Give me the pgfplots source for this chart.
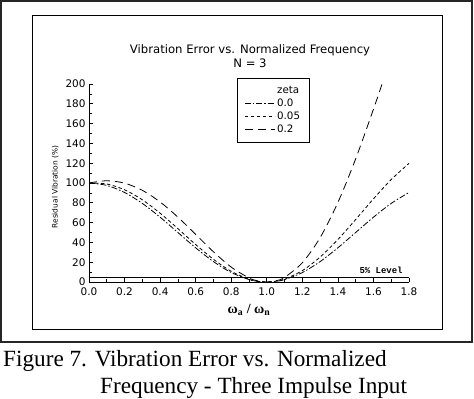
\documentclass[border=0pt]{standalone}
\usepackage{fontspec}
\setmainfont{Liberation Serif}
\setsansfont{DejaVu Sans}
\setmonofont{Liberation Mono}
\usepackage{pgfplots}
\pgfplotsset{compat=1.18}
\pgfplotsset{/pgf/number format/assume math mode=true}
\pgfplotsset{legend image code/.code={\draw[#1] (0bp,0bp) -- (30bp,0bp);}}
\begin{document}
\begin{tikzpicture}
\useasboundingbox (0,0) rectangle (474bp,399bp);
\draw[line width=1.6bp, black!85] (1bp,398bp) rectangle (472bp,57bp);
\draw[line width=0.8bp] (32bp,384bp) rectangle (442bp,70bp);
\node[font=\sffamily\fontsize{11.7}{13}\selectfont] at (250bp,349bp) {Vibration Error vs. Normalized Frequency};
\node[font=\sffamily\fontsize{11.7}{13}\selectfont] at (250bp,336bp) {N = 3};
\begin{axis}[
  at={(89bp,117bp)}, anchor=south west,
  scale only axis, width=320bp, height=198bp,
  xmin=0, xmax=1.8, ymin=0, ymax=200,
  axis x line*=bottom, axis y line*=left,
  axis line style={-, line width=0.8bp},
  xtick={0,0.2,...,1.8}, minor x tick num=1,
  ytick={0,20,...,200}, minor y tick num=1,
  tick align=inside,
  major tick length=4bp, minor tick length=2.5bp,
  tick style={black, line width=0.6bp},
  xticklabel style={/pgf/number format/.cd, fixed, fixed zerofill, precision=1, /tikz/.cd, yshift=-2bp},
  yticklabel style={/pgf/number format/.cd, fixed, precision=0},
  tick label style={font=\sffamily\fontsize{10.5}{12}\selectfont},
  xlabel={\textbf{ω\textsubscript{a} / ω\textsubscript{n}}},
  xlabel style={at={(axis description cs:0.5,-0.143)}, anchor=center, font=\fontsize{14}{15}\selectfont},
  ylabel={Residual Vibration (\%)},
  ylabel style={at={(axis description cs:-0.105,0.48)}, anchor=center, font=\sffamily\fontsize{7.5}{9}\selectfont},
  legend style={at={(axis description cs:0.4625,1.03)}, anchor=north west,
    draw=black, line width=0.8bp, font=\sffamily\fontsize{10.3}{11}\selectfont,
    inner xsep=7bp, inner ysep=6bp},
  legend cell align=left,
  clip mode=individual,
]
\addlegendimage{empty legend}
\addlegendentry{zeta}
\addplot[black, line width=0.8bp, smooth, dash pattern=on 6bp off 2bp on 1.5bp off 2bp] coordinates {
(0,100) (0.1,97.55) (0.2,90.45) (0.3,79.39) (0.4,65.45) (0.5,50.00) (0.6,34.55)
(0.7,20.61) (0.8,9.55) (0.9,2.45) (0.95,0.62) (1.0,0) (1.05,0.62) (1.1,2.45) (1.2,9.55)
(1.3,20.61) (1.4,34.55) (1.5,50.00) (1.6,65.45) (1.7,79.39) (1.8,90.45)};
\addlegendentry{0.0}
\addplot[black, line width=0.8bp, smooth, dash pattern=on 3.5bp off 2.5bp] coordinates {
(0,100) (0.1,99.00) (0.2,93.17) (0.3,83.03) (0.4,69.51) (0.5,53.92) (0.6,37.84)
(0.7,22.93) (0.8,10.79) (0.9,2.81) (0.95,0.71) (1.0,0) (1.05,0.72) (1.1,2.90) (1.2,11.49)
(1.3,25.20) (1.4,42.92) (1.5,63.11) (1.6,83.95) (1.7,103.48) (1.8,119.83)};
\addlegendentry{0.05}
\addplot[black, line width=0.8bp, smooth, dash pattern=on 8bp off 5bp] coordinates {
(0,100) (0.1,102.26) (0.2,99.85) (0.3,92.59) (0.4,80.83) (0.5,65.50) (0.6,48.08)
(0.7,30.50) (0.8,15.04) (0.9,4.10) (0.95,1.07) (1.0,0) (1.05,1.14) (1.1,4.67) (1.2,19.44)
(1.3,44.81) (1.4,80.31) (1.5,124.39) (1.6,174.50) (1.65,200.78)};
\addlegendentry{0.2}
\addplot[black, line width=1bp, forget plot] coordinates {(0,5) (1.8,5)};
\node[font=\ttfamily\bfseries\fontsize{9}{10}\selectfont] at (axis cs:1.643,11.5) {5\% Level};
\end{axis}
\node[anchor=west, font=\fontsize{23.3}{25}\selectfont, inner sep=0pt] at (3bp,38bp) {Figure 7. Vibration Error vs. Normalized};
\node[anchor=west, font=\fontsize{23.3}{25}\selectfont, inner sep=0pt] at (100bp,11bp) {Frequency - Three Impulse Input};
\end{tikzpicture}
\end{document}
